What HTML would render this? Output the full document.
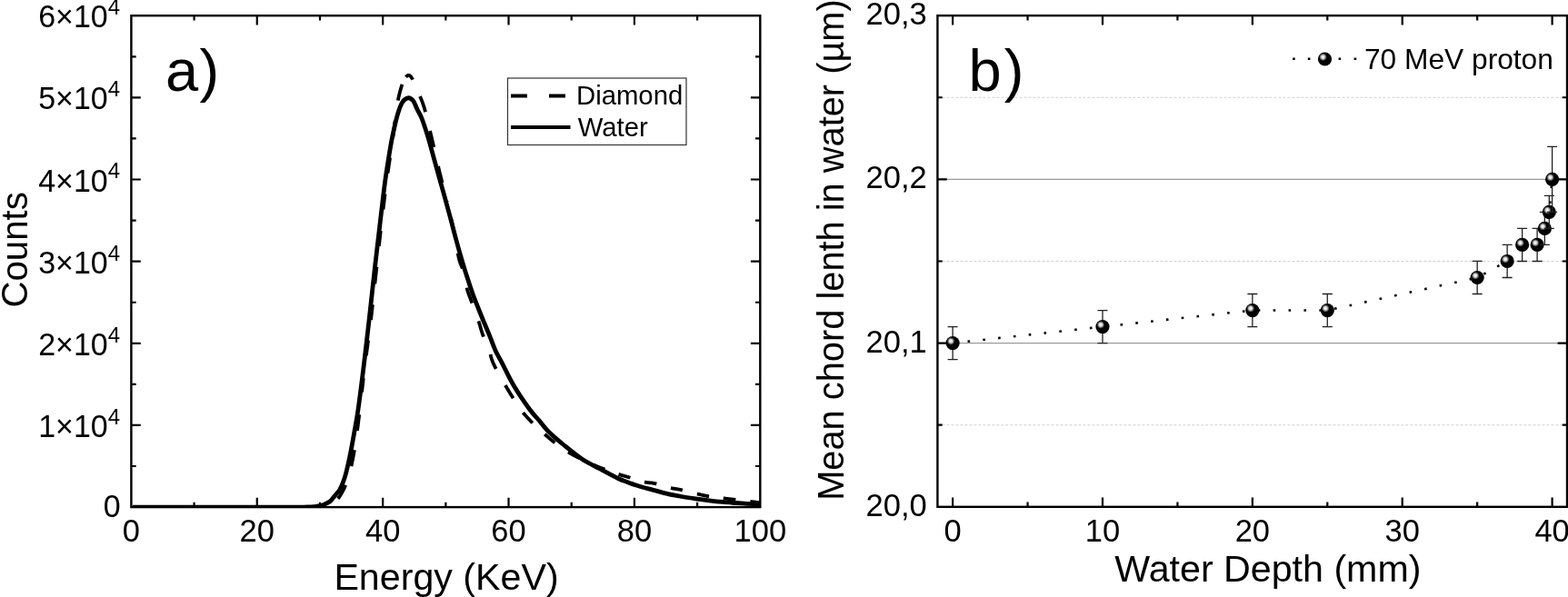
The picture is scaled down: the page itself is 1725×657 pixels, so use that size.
<!DOCTYPE html><html><head><meta charset="utf-8"><title>Figure</title><style>html,body{margin:0;padding:0;background:#fff;overflow:hidden;width:1725px;height:657px;}svg{display:block;}text{font-family:"Liberation Sans", Arial, Helvetica, sans-serif;fill:#000;}</style></head><body>
<svg width="1725" height="657" viewBox="0 0 1725 657">
<defs><radialGradient id="sph" cx="0.37" cy="0.36" r="0.28" fx="0.36" fy="0.35"><stop offset="0" stop-color="#fbfbfb"/><stop offset="0.4" stop-color="#dedede"/><stop offset="0.72" stop-color="#6a6a6a"/><stop offset="1" stop-color="#000"/></radialGradient></defs>
<rect width="1725" height="657" fill="#fff"/>
<clipPath id="ca"><rect x="144.40" y="17.20" width="691.90" height="540.90"/></clipPath>
<g clip-path="url(#ca)">
<path d="M146.00,558.10L149.56,558.10M169.90,558.10L176.23,558.10M227.98,558.11L235.76,558.11M258.42,558.11L265.55,558.11M290.49,558.10L295.54,558.10M317.11,558.10L319.76,558.10L322.19,558.10L324.41,558.10L326.44,558.10L328.30,558.10M343.90,558.02L345.00,558.00L346.07,557.98L347.02,557.97L347.86,557.95L348.61,557.93L349.26,557.91L349.83,557.89L350.32,557.86L350.74,557.84L351.10,557.82L351.40,557.79L351.66,557.77L351.88,557.74L352.06,557.71L352.21,557.68L352.35,557.65L352.48,557.61L352.61,557.58L352.73,557.55L352.87,557.51L353.03,557.47L353.22,557.43L353.43,557.39L353.69,557.34L354.00,557.30L354.33,557.25L354.66,557.21L354.98,557.16L355.29,557.11L355.61,557.06L355.91,557.01L356.22,556.96L356.52,556.91L356.82,556.85L357.11,556.80L357.40,556.74L357.69,556.68M371.80,548.74L372.00,548.50L372.20,548.26L372.39,548.01L372.59,547.75L372.78,547.50L372.98,547.23L373.17,546.96L373.36,546.69L373.56,546.41L373.75,546.12L373.94,545.84L374.12,545.55L374.31,545.25L374.50,544.95L374.69,544.65L374.87,544.34L375.06,544.04L375.24,543.73L375.42,543.41L375.60,543.10L375.78,542.78L375.96,542.46L376.14,542.14L376.32,541.82L376.50,541.50L376.68,541.18L376.85,540.86L377.02,540.53L377.20,540.21L377.37,539.89L377.54,539.56L377.70,539.24L377.87,538.91L378.04,538.58L378.20,538.24L378.37,537.90L378.53,537.56L378.70,537.22L378.86,536.87L379.02,536.51L379.19,536.15L379.35,535.78L379.51,535.41L379.68,535.03L379.84,534.64L380.00,534.24L380.17,533.84M386.39,513.15L386.56,512.38L386.73,511.59L386.90,510.80L387.07,510.01L387.24,509.22L387.41,508.43L387.57,507.64L387.73,506.85L387.89,506.07L388.05,505.29L388.20,504.52L388.35,503.75L388.50,503.00L388.64,502.26L388.78,501.53L388.92,500.81L389.05,500.10L389.18,499.40L389.31,498.71L389.43,498.02L389.56,497.33L389.68,496.65L389.80,495.96L389.91,495.26M393.03,473.88L393.17,472.84L393.30,471.76L393.45,470.64L393.59,469.48L393.74,468.27L393.90,467.00L394.07,465.67L394.24,464.28L394.42,462.82L394.60,461.29L394.80,459.69L395.00,458.00L395.21,456.22M398.06,431.44L398.35,428.91L398.64,426.38L398.93,423.83L399.22,421.30L399.51,418.77L399.80,416.26M402.87,391.19L403.15,389.08L403.43,386.98L403.70,384.89L403.98,382.81L404.26,380.74L404.54,378.68L404.81,376.62L405.09,374.58M408.00,352.00L408.25,349.92L408.49,347.83L408.74,345.75L408.97,343.67L409.21,341.58L409.45,339.50L409.68,337.42L409.91,335.33M412.37,312.42L412.59,310.33L412.82,308.25L413.04,306.17L413.27,304.08L413.50,302.00L413.73,299.92L413.96,297.83L414.18,295.75L414.41,293.67M416.90,270.75L417.13,268.67L417.36,266.58L417.59,264.50L417.82,262.42L418.05,260.33L418.29,258.25L418.52,256.17L418.76,254.08M421.52,230.41L421.77,228.23L422.03,226.06L422.29,223.91L422.55,221.77L422.80,219.65L423.06,217.56L423.31,215.49L423.56,213.45M426.58,190.39L426.80,188.85L427.01,187.34L427.23,185.85L427.44,184.38L427.66,182.94L427.87,181.52L428.07,180.11L428.28,178.73L428.48,177.37L428.68,176.02L428.88,174.70L429.07,173.38M432.25,151.08L432.39,150.11L432.52,149.14L432.66,148.16L432.80,147.17L432.93,146.17L433.07,145.15L433.21,144.12L433.36,143.07L433.50,142.00L433.65,140.91L433.79,139.79L433.93,138.66L434.08,137.51L434.22,136.34L434.36,135.17L434.51,133.99L434.65,132.80M437.80,110.61L437.96,109.79L438.13,108.99L438.30,108.20L438.46,107.43L438.63,106.68L438.80,105.94L438.97,105.22L439.14,104.51L439.31,103.81L439.48,103.13L439.65,102.46L439.82,101.81L439.99,101.16L440.16,100.53L440.33,99.90L440.50,99.29L440.67,98.68L440.83,98.09L441.00,97.50L441.17,96.92L441.33,96.36L441.50,95.81L441.66,95.27L441.82,94.75L441.99,94.24L442.15,93.74L442.31,93.25L442.48,92.77M446.48,84.84L446.67,84.62L446.86,84.40L447.06,84.20L447.25,84.01L447.44,83.84L447.64,83.67L447.83,83.52L448.02,83.38L448.21,83.26L448.40,83.15L448.59,83.05L448.77,82.97L448.96,82.90L449.14,82.85L449.32,82.82L449.50,82.80L449.68,82.80L449.85,82.82L450.02,82.85L450.20,82.90L450.37,82.97L450.54,83.06L450.70,83.16L450.87,83.27L451.04,83.40L451.20,83.54L451.37,83.69L451.53,83.86L451.70,84.03L451.86,84.22L452.02,84.41L452.19,84.62L452.35,84.83L452.51,85.05L452.68,85.28L452.84,85.51L453.00,85.75L453.17,86.00L453.33,86.25L453.50,86.50L453.67,86.76L453.83,87.04L454.00,87.33L454.17,87.63M462.11,106.03L462.32,106.55L462.53,107.07L462.75,107.59L462.96,108.13L463.19,108.67L463.41,109.22L463.63,109.78L463.86,110.35L464.09,110.94L464.33,111.54L464.56,112.16L464.80,112.79L465.04,113.44L465.28,114.12L465.52,114.81L465.76,115.53L466.01,116.27L466.25,117.04L466.50,117.83L466.75,118.65L467.00,119.50L467.25,120.39L467.51,121.32L467.77,122.30L468.04,123.31M473.01,143.95L473.26,144.99L473.50,146.00L473.74,146.98L473.97,147.95L474.20,148.90L474.43,149.83L474.65,150.75L474.87,151.66L475.08,152.56L475.30,153.44L475.51,154.32L475.71,155.19L475.92,156.05L476.12,156.91L476.33,157.76L476.53,158.60L476.73,159.44L476.93,160.28L477.12,161.11L477.32,161.95M482.07,182.98L482.26,183.79L482.44,184.60L482.63,185.41L482.81,186.21L483.00,187.00L483.19,187.79L483.37,188.56L483.56,189.33L483.74,190.09L483.93,190.85L484.11,191.59L484.30,192.34L484.48,193.07L484.67,193.81L484.85,194.54L485.03,195.27L485.22,196.00L485.40,196.73L485.59,197.46L485.78,198.19L485.96,198.93L486.15,199.66L486.34,200.41L486.53,201.15M491.69,221.70L491.90,222.53M495.92,239.34L496.10,240.12L496.28,240.90L496.46,241.68L496.64,242.45L496.82,243.23L497.00,244.00L497.18,244.76L497.35,245.52L497.52,246.26L497.70,247.00L497.87,247.73L498.04,248.45L498.20,249.17L498.37,249.89L498.54,250.60L498.70,251.32L498.87,252.03L499.03,252.75L499.20,253.47L499.36,254.20L499.52,254.93L499.69,255.67L499.85,256.41L500.01,257.17M503.69,278.62L503.86,279.59L504.04,280.55L504.22,281.48L504.40,282.40L504.60,283.29L504.80,284.16L505.00,285.00L505.21,285.81L505.44,286.60L505.67,287.37L505.92,288.12L506.17,288.85L506.43,289.57L506.69,290.27L506.96,290.96L507.24,291.64L507.51,292.31L507.79,292.97L508.06,293.62L508.34,294.27L508.61,294.92L508.88,295.56M513.60,316.63L513.72,317.27L513.86,317.90L514.00,318.50L514.15,319.08L514.30,319.65L514.45,320.19L514.60,320.72L514.76,321.23L514.92,321.73L515.08,322.21L515.24,322.69L515.40,323.15L515.57,323.61L515.74,324.06L515.91,324.50L516.08,324.94L516.25,325.38L516.42,325.82L516.59,326.26L516.77,326.70L516.94,327.15L517.12,327.60L517.29,328.06L517.47,328.53L517.65,329.01L517.82,329.50L518.00,330.00L518.18,330.51L518.36,331.03L518.54,331.56L518.72,332.09L518.90,332.63L519.09,333.17L519.28,333.71M526.46,353.46L526.64,353.97L526.82,354.48L527.00,355.00L527.17,355.52L527.34,356.04L527.50,356.55L527.66,357.06L527.81,357.57L527.96,358.09L528.11,358.60L528.26,359.11L528.40,359.63L528.55,360.14L528.70,360.66L528.84,361.19L528.99,361.72L529.15,362.25L529.30,362.79L529.46,363.33L529.63,363.89L529.80,364.45L529.98,365.01L530.17,365.59L530.36,366.18L530.56,366.77L530.78,367.38L531.00,368.00L531.24,368.63L531.48,369.28L531.75,369.94L532.02,370.62M539.50,389.94L539.65,390.53L539.79,391.11L539.94,391.69L540.09,392.28L540.25,392.88L540.42,393.48L540.59,394.09L540.78,394.72L540.98,395.37L541.20,396.03L541.44,396.71L541.70,397.41L541.98,398.14L542.29,398.90L542.63,399.68L543.00,400.50L543.40,401.35L543.82,402.22L544.26,403.13L544.73,404.06L545.22,405.01L545.72,405.98M555.88,423.96L556.50,425.00L557.12,426.04L557.76,427.11L558.41,428.19L559.07,429.28L559.75,430.39L560.43,431.51L561.12,432.63L561.82,433.76L562.52,434.89L563.22,436.01L563.93,437.14L564.63,438.25M575.47,454.11L575.94,454.70L576.40,455.26L576.86,455.80L577.30,456.32L577.73,456.83L578.16,457.31L578.58,457.78L579.00,458.24L579.41,458.69L579.82,459.13L580.22,459.56L580.62,459.98L581.02,460.40L581.42,460.82L581.81,461.24L582.21,461.66L582.60,462.08L583.00,462.50L583.39,462.92L583.78,463.32L584.16,463.71L584.53,464.09L584.90,464.45L585.26,464.80L585.62,465.15L585.97,465.48M599.25,477.89L599.66,478.26L600.08,478.63L600.50,479.00L600.93,479.38L601.37,479.76L601.81,480.14L602.25,480.53L602.71,480.92L603.16,481.32L603.63,481.71L604.09,482.11L604.56,482.51L605.04,482.91L605.52,483.32L606.00,483.72L606.49,484.12L606.98,484.53L607.47,484.93L607.96,485.33L608.46,485.74L608.96,486.14L609.46,486.54L609.97,486.93L610.47,487.33M625.00,497.50L625.59,497.85L626.18,498.20L626.78,498.55L627.38,498.90L627.99,499.25L628.61,499.59L629.23,499.94L629.85,500.28L630.48,500.62L631.11,500.95L631.74,501.29L632.38,501.62L633.01,501.96L633.65,502.29L634.29,502.62L634.93,502.94L635.56,503.27L636.20,503.59L636.84,503.92L637.48,504.24M652.62,511.46L653.22,511.73L653.82,511.99L654.41,512.25L655.00,512.50L655.58,512.75L656.15,512.99L656.71,513.22L657.27,513.45L657.82,513.67L658.37,513.89L658.91,514.11L659.44,514.32L659.98,514.53L660.51,514.73L661.04,514.93L661.56,515.13L662.09,515.33L662.61,515.53L663.14,515.72L663.67,515.91L664.20,516.11L664.73,516.30L665.26,516.50M680.53,521.91L681.04,522.08L681.53,522.25L682.00,522.40L682.44,522.54L682.84,522.67L683.21,522.79L683.55,522.89L683.87,522.99L684.16,523.08L684.44,523.16L684.70,523.23L684.96,523.30L685.20,523.37L685.44,523.44L685.69,523.50L685.94,523.57L686.19,523.63L686.46,523.70L686.74,523.78L687.04,523.86L687.37,523.95L687.72,524.04L688.10,524.15L688.51,524.27L688.97,524.40L689.46,524.54L690.00,524.70L690.59,524.88L691.22,525.07L691.90,525.28L692.62,525.50L693.38,525.74M709.00,530.40L709.61,530.54L710.18,530.67L710.73,530.78L711.25,530.87L711.75,530.95L712.22,531.02L712.67,531.08L713.11,531.13L713.54,531.17L713.95,531.21L714.35,531.24L714.75,531.27L715.14,531.30L715.54,531.34L715.93,531.37L716.33,531.40L716.74,531.44L717.16,531.49L717.58,531.55L718.03,531.61L718.49,531.69L718.97,531.78L719.47,531.88L720.00,532.00L720.55,532.13L721.11,532.28L721.69,532.44L722.28,532.61M737.95,537.13L738.52,537.23L739.10,537.33L739.67,537.43L740.24,537.52L740.80,537.61L741.37,537.69L741.94,537.78L742.51,537.87L743.08,537.95L743.65,538.04L744.22,538.13L744.80,538.22L745.38,538.32L745.97,538.42L746.56,538.52L747.16,538.63L747.77,538.75L748.38,538.87L749.00,539.00L749.63,539.14L750.27,539.28L750.91,539.43M766.91,543.45L767.53,543.60L768.16,543.75L768.77,543.90L769.39,544.05L770.00,544.19L770.61,544.34L771.22,544.48L771.83,544.62L772.44,544.76L773.05,544.90L773.66,545.04L774.27,545.17L774.89,545.31L775.51,545.44L776.13,545.57L776.76,545.70L777.40,545.82L778.04,545.94L778.68,546.07L779.34,546.18L780.00,546.30M795.72,548.34L796.37,548.42L797.00,548.50L797.61,548.58L798.21,548.65L798.78,548.72L799.34,548.78L799.88,548.85L800.41,548.91L800.93,548.97L801.44,549.03L801.95,549.08L802.45,549.14L802.94,549.19L803.44,549.25L803.93,549.31L804.43,549.36L804.93,549.42L805.44,549.47L805.96,549.53L806.49,549.59L807.03,549.65L807.59,549.72L808.16,549.78L808.75,549.85L809.37,549.92M825.41,551.87L826.10,551.96L826.76,552.04L827.40,552.12L828.00,552.20L828.58,552.27L829.15,552.35L829.70,552.42L830.25,552.50L830.78,552.57L831.30,552.64L831.80,552.71L832.30,552.78L832.78,552.85L833.24,552.91L833.69,552.98L834.12,553.04L834.54,553.10L834.95,553.16L835.33,553.21L835.70,553.27L836.06,553.32L836.39,553.37L836.71,553.41L837.00,553.46L837.28,553.50L837.54,553.53L837.78,553.57L838.00,553.60" fill="none" stroke="#000" stroke-width="3.8" stroke-linejoin="round"/>
<path d="M146.00,558.10 C171.67,558.10 268.00,558.12 300.00,558.10 C332.00,558.08 330.33,558.08 338.00,558.00 C345.67,557.92 343.83,557.78 346.00,557.60 C348.17,557.42 349.33,557.27 351.00,556.90 C352.67,556.53 354.03,556.22 356.00,555.40 C357.97,554.58 360.92,553.42 362.80,552.00 C364.68,550.58 365.93,548.48 367.30,546.90 C368.67,545.32 369.97,543.73 371.00,542.50 C372.03,541.27 372.38,541.58 373.50,539.50 C374.62,537.42 376.48,533.25 377.70,530.00 C378.92,526.75 379.53,525.00 380.80,520.00 C382.07,515.00 383.78,507.50 385.30,500.00 C386.82,492.50 388.43,483.33 389.90,475.00 C391.37,466.67 392.33,462.50 394.10,450.00 C395.87,437.50 398.47,416.67 400.50,400.00 C402.53,383.33 404.42,366.67 406.30,350.00 C408.18,333.33 409.92,316.67 411.80,300.00 C413.68,283.33 415.63,266.67 417.60,250.00 C419.57,233.33 421.62,214.67 423.60,200.00 C425.58,185.33 427.97,171.17 429.50,162.00 C431.03,152.83 431.48,151.00 432.80,145.00 C434.12,139.00 435.80,131.33 437.40,126.00 C439.00,120.67 440.55,116.03 442.40,113.00 C444.25,109.97 446.50,108.17 448.50,107.80 C450.50,107.43 452.62,108.63 454.40,110.80 C456.18,112.97 457.58,117.52 459.20,120.80 C460.82,124.08 462.13,125.42 464.10,130.50 C466.07,135.58 468.87,144.28 471.00,151.30 C473.13,158.32 474.68,164.60 476.90,172.60 C479.12,180.60 482.27,192.02 484.30,199.30 C486.33,206.58 487.33,209.92 489.10,216.30 C490.87,222.68 492.87,229.98 494.90,237.60 C496.93,245.22 499.33,254.72 501.30,262.00 C503.27,269.28 504.73,274.53 506.70,281.30 C508.67,288.07 510.87,295.57 513.10,302.60 C515.33,309.63 517.87,317.27 520.10,323.50 C522.33,329.73 524.42,334.75 526.50,340.00 C528.58,345.25 530.53,349.97 532.60,355.00 C534.67,360.03 536.85,365.13 538.90,370.20 C540.95,375.27 542.57,380.32 544.90,385.40 C547.23,390.48 549.45,394.10 552.90,400.70 C556.35,407.30 560.70,416.78 565.60,425.00 C570.50,433.22 577.82,443.83 582.30,450.00 C586.78,456.17 588.98,457.83 592.50,462.00 C596.02,466.17 598.82,470.42 603.40,475.00 C607.98,479.58 613.90,484.50 620.00,489.50 C626.10,494.50 633.33,500.58 640.00,505.00 C646.67,509.42 653.33,512.42 660.00,516.00 C666.67,519.58 675.00,524.10 680.00,526.50 C685.00,528.90 686.67,529.15 690.00,530.40 C693.33,531.65 696.67,532.90 700.00,534.00 C703.33,535.10 706.67,536.07 710.00,537.00 C713.33,537.93 715.83,538.50 720.00,539.60 C724.17,540.70 730.00,542.45 735.00,543.60 C740.00,544.75 745.00,545.63 750.00,546.50 C755.00,547.37 760.00,548.08 765.00,548.80 C770.00,549.52 775.00,550.20 780.00,550.80 C785.00,551.40 790.00,551.95 795.00,552.40 C800.00,552.85 805.50,553.18 810.00,553.50 C814.50,553.82 817.33,554.02 822.00,554.30 C826.67,554.58 835.33,555.05 838.00,555.20" fill="none" stroke="#000" stroke-width="4.8" stroke-linejoin="round"/>
</g>
<rect x="144.40" y="17.20" width="691.90" height="540.90" fill="none" stroke="#000" stroke-width="2.4"/>
<path d="M213.59,558.10v-5.30M213.59,17.20v5.30M282.78,558.10v-10.40M282.78,17.20v10.40M351.97,558.10v-5.30M351.97,17.20v5.30M421.16,558.10v-10.40M421.16,17.20v10.40M490.35,558.10v-5.30M490.35,17.20v5.30M559.54,558.10v-10.40M559.54,17.20v10.40M628.73,558.10v-5.30M628.73,17.20v5.30M697.92,558.10v-10.40M697.92,17.20v10.40M767.11,558.10v-5.30M767.11,17.20v5.30M144.40,513.02h5.30M836.30,513.02h-5.30M144.40,467.95h10.40M836.30,467.95h-10.40M144.40,422.88h5.30M836.30,422.88h-5.30M144.40,377.80h10.40M836.30,377.80h-10.40M144.40,332.73h5.30M836.30,332.73h-5.30M144.40,287.65h10.40M836.30,287.65h-10.40M144.40,242.58h5.30M836.30,242.58h-5.30M144.40,197.50h10.40M836.30,197.50h-10.40M144.40,152.43h5.30M836.30,152.43h-5.30M144.40,107.35h10.40M836.30,107.35h-10.40M144.40,62.28h5.30M836.30,62.28h-5.30" stroke="#000" stroke-width="2.2" fill="none"/>
<text transform="translate(144.40,596.2) scale(1,1.035)" font-size="34.5" text-anchor="middle">0</text>
<text transform="translate(282.78,596.2) scale(1,1.035)" font-size="34.5" text-anchor="middle">20</text>
<text transform="translate(421.16,596.2) scale(1,1.035)" font-size="34.5" text-anchor="middle">40</text>
<text transform="translate(559.54,596.2) scale(1,1.035)" font-size="34.5" text-anchor="middle">60</text>
<text transform="translate(697.92,596.2) scale(1,1.035)" font-size="34.5" text-anchor="middle">80</text>
<text transform="translate(836.30,596.2) scale(1,1.035)" font-size="34.5" text-anchor="middle">100</text>
<text transform="translate(132.6,568.6) scale(1,1.035)" font-size="34" text-anchor="end">0</text>
<text transform="translate(132.1,481.05) scale(1,1.035)" font-size="34" text-anchor="end">1×10<tspan font-size="24" dy="-13.7">4</tspan></text>
<text transform="translate(132.1,390.90) scale(1,1.035)" font-size="34" text-anchor="end">2×10<tspan font-size="24" dy="-13.7">4</tspan></text>
<text transform="translate(132.1,300.75) scale(1,1.035)" font-size="34" text-anchor="end">3×10<tspan font-size="24" dy="-13.7">4</tspan></text>
<text transform="translate(132.1,210.60) scale(1,1.035)" font-size="34" text-anchor="end">4×10<tspan font-size="24" dy="-13.7">4</tspan></text>
<text transform="translate(132.1,120.45) scale(1,1.035)" font-size="34" text-anchor="end">5×10<tspan font-size="24" dy="-13.7">4</tspan></text>
<text transform="translate(132.1,30.30) scale(1,1.035)" font-size="34" text-anchor="end">6×10<tspan font-size="24" dy="-13.7">4</tspan></text>
<text x="367.4" y="648.7" font-size="41.2">Energy (KeV)</text>
<text transform="translate(30.0,338.5) rotate(-90)" font-size="40.2">Counts</text>
<text x="182" y="100" font-size="65">a<tspan x="219.5">)</tspan></text>
<rect x="558.5" y="86" width="196.5" height="73.5" fill="#fff" stroke="#333" stroke-width="1.2"/>
<path d="M562,105.5h18M604,105.5h18" stroke="#000" stroke-width="4"/>
<path d="M562,140h65.5" stroke="#000" stroke-width="4.2"/>
<text x="634" y="115.4" font-size="29.3">Diamond</text>
<text x="635.7" y="149.9" font-size="29.3">Water</text>
<path d="M1031.40,377.58H1724.00M1031.40,197.37H1724.00" stroke="#9a9a9a" stroke-width="1.1" fill="none"/>
<path d="M1031.40,467.69H1724.00M1031.40,287.48H1724.00M1031.40,107.26H1724.00" stroke="#cfcfcf" stroke-width="1.1" stroke-dasharray="3 2" fill="none"/>
<polyline points="1048.10,377.58 1212.97,359.56 1377.85,341.54 1460.29,341.54 1625.16,305.50 1658.14,287.48 1674.62,269.45 1691.11,269.45 1699.36,251.43 1704.30,233.41 1707.60,197.37" fill="none" stroke="#000" stroke-width="2.6" stroke-dasharray="2.6 14.3" stroke-dashoffset="0.4"/>
<path d="M1048.10,359.56V395.61M1042.60,359.56h11M1042.60,395.61h11" stroke="#222" stroke-width="1.3" fill="none"/>
<circle cx="1048.10" cy="377.58" r="7.6" fill="url(#sph)"/>
<path d="M1212.97,341.54V377.58M1207.47,341.54h11M1207.47,377.58h11" stroke="#222" stroke-width="1.3" fill="none"/>
<circle cx="1212.97" cy="359.56" r="7.6" fill="url(#sph)"/>
<path d="M1377.85,323.52V359.56M1372.35,323.52h11M1372.35,359.56h11" stroke="#222" stroke-width="1.3" fill="none"/>
<circle cx="1377.85" cy="341.54" r="7.6" fill="url(#sph)"/>
<path d="M1460.29,323.52V359.56M1454.79,323.52h11M1454.79,359.56h11" stroke="#222" stroke-width="1.3" fill="none"/>
<circle cx="1460.29" cy="341.54" r="7.6" fill="url(#sph)"/>
<path d="M1625.16,287.47V323.52M1619.66,287.47h11M1619.66,323.52h11" stroke="#222" stroke-width="1.3" fill="none"/>
<circle cx="1625.16" cy="305.50" r="7.6" fill="url(#sph)"/>
<path d="M1658.14,269.45V305.50M1652.64,269.45h11M1652.64,305.50h11" stroke="#222" stroke-width="1.3" fill="none"/>
<circle cx="1658.14" cy="287.48" r="7.6" fill="url(#sph)"/>
<path d="M1674.62,251.43V287.48M1669.12,251.43h11M1669.12,287.48h11" stroke="#222" stroke-width="1.3" fill="none"/>
<circle cx="1674.62" cy="269.45" r="7.6" fill="url(#sph)"/>
<path d="M1691.11,251.43V287.48M1685.61,251.43h11M1685.61,287.48h11" stroke="#222" stroke-width="1.3" fill="none"/>
<circle cx="1691.11" cy="269.45" r="7.6" fill="url(#sph)"/>
<path d="M1699.36,233.41V269.45M1693.86,233.41h11M1693.86,269.45h11" stroke="#222" stroke-width="1.3" fill="none"/>
<circle cx="1699.36" cy="251.43" r="7.6" fill="url(#sph)"/>
<path d="M1704.30,215.39V251.43M1698.80,215.39h11M1698.80,251.43h11" stroke="#222" stroke-width="1.3" fill="none"/>
<circle cx="1704.30" cy="233.41" r="7.6" fill="url(#sph)"/>
<path d="M1707.60,161.32V233.41M1702.10,161.32h11M1702.10,233.41h11" stroke="#222" stroke-width="1.3" fill="none"/>
<circle cx="1707.60" cy="197.37" r="7.6" fill="url(#sph)"/>
<rect x="1031.40" y="17.15" width="692.60" height="540.65" fill="none" stroke="#000" stroke-width="2.4"/>
<path d="M1048.10,557.80v-10.40M1048.10,17.15v10.40M1130.54,557.80v-5.30M1130.54,17.15v5.30M1212.97,557.80v-10.40M1212.97,17.15v10.40M1295.41,557.80v-5.30M1295.41,17.15v5.30M1377.85,557.80v-10.40M1377.85,17.15v10.40M1460.29,557.80v-5.30M1460.29,17.15v5.30M1542.72,557.80v-10.40M1542.72,17.15v10.40M1625.16,557.80v-5.30M1625.16,17.15v5.30M1707.60,557.80v-10.40M1707.60,17.15v10.40M1031.40,467.69h5.30M1724.00,467.69h-5.30M1031.40,377.58h10.40M1724.00,377.58h-10.40M1031.40,287.48h5.30M1724.00,287.48h-5.30M1031.40,197.37h10.40M1724.00,197.37h-10.40M1031.40,107.26h5.30M1724.00,107.26h-5.30" stroke="#000" stroke-width="2.2" fill="none"/>
<text transform="translate(1048.10,595.5) scale(1,1.035)" font-size="34.5" text-anchor="middle">0</text>
<text transform="translate(1212.97,595.5) scale(1,1.035)" font-size="34.5" text-anchor="middle">10</text>
<text transform="translate(1377.85,595.5) scale(1,1.035)" font-size="34.5" text-anchor="middle">20</text>
<text transform="translate(1542.72,595.5) scale(1,1.035)" font-size="34.5" text-anchor="middle">30</text>
<text transform="translate(1707.60,595.5) scale(1,1.035)" font-size="34.5" text-anchor="middle">40</text>
<text transform="translate(1019.7,567.80) scale(1,1.035)" font-size="34.5" text-anchor="end">20,0</text>
<text transform="translate(1019.7,387.58) scale(1,1.035)" font-size="34.5" text-anchor="end">20,1</text>
<text transform="translate(1019.7,207.37) scale(1,1.035)" font-size="34.5" text-anchor="end">20,2</text>
<text transform="translate(1019.7,27.15) scale(1,1.035)" font-size="34.5" text-anchor="end">20,3</text>
<text x="1226.3" y="640.1" font-size="41.2">Water Depth (mm)</text>
<text transform="translate(927.6,550.8) rotate(-90)" font-size="39.8">Mean chord lenth in water (µm)</text>
<text x="1065.4" y="100" font-size="65">b<tspan x="1104.7">)</tspan></text>
<path d="M1422.1,64.8h2.6M1438.8,64.8h2.6M1472.6,64.8h2.6M1489.6,64.8h2.6" stroke="#000" stroke-width="2.6" fill="none"/>
<circle cx="1457.5" cy="65" r="7.6" fill="url(#sph)"/>
<text x="1501" y="75.8" font-size="31.7">70 MeV proton</text>
</svg></body></html>
